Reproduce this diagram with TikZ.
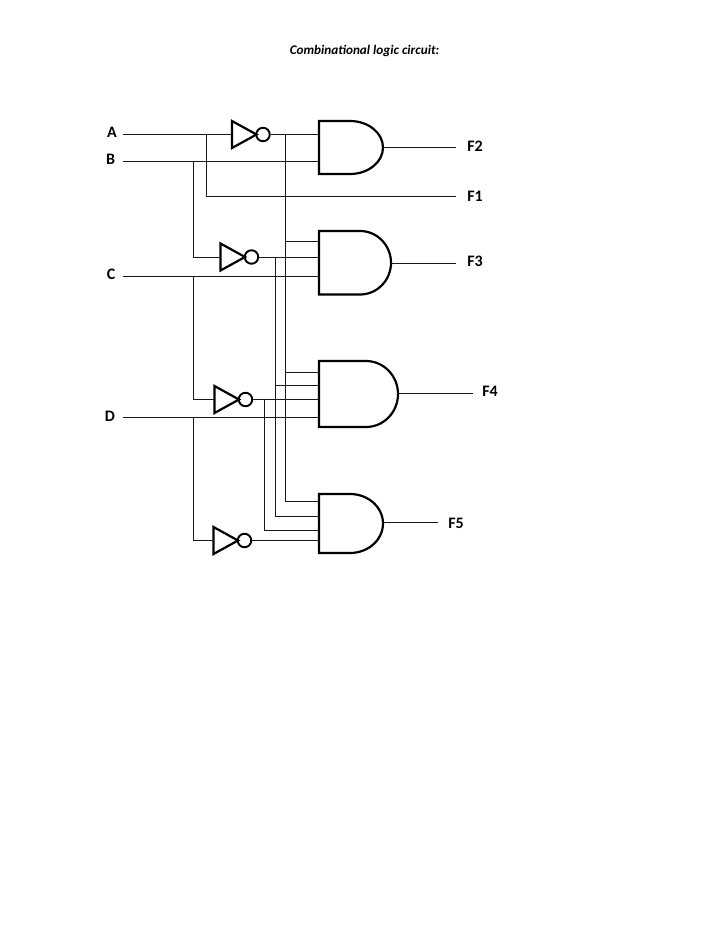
\documentclass[tikz,border=0pt]{standalone}
\usepackage{fontspec}
\setmainfont{Carlito}
\tikzset{
  wire/.style={line width=1pt, color=black!90},
  body/.style={line width=2.2pt, color=black},
  bubble/.style={circle, draw, line width=1.9pt, inner sep=0pt, minimum size=13.5pt},
  tag/.style={font=\bfseries\fontsize{16}{18}\selectfont, inner sep=0pt}
}
\begin{document}
\begin{tikzpicture}[x=1pt, y=-1pt]
  \useasboundingbox (0,0) rectangle (728,943);
  \def\Xin{123};
  \def\Xg{319};

  \node [font=\bfseries\itshape\fontsize{13.2}{15}\selectfont, inner sep=0pt] (title) at (364.5,50.5) {Combinational logic circuit:};

  % input ends and labels
  \coordinate (A) at (\Xin,134.5);
  \coordinate (B) at (\Xin,161.5);
  \coordinate (C) at (\Xin,276.5);
  \coordinate (D) at (\Xin,417.5);
  \node [tag] (labA) at (112,132) {A};
  \node [tag] (labB) at (110.5,159) {B};
  \node [tag] (labC) at (111,274) {C};
  \node [tag] (labD) at (110,416) {D};

  % vertical rails
  \coordinate (tapA) at (206,0);
  \coordinate (tapB) at (193,0);
  \coordinate (railA) at (285,0);
  \coordinate (railC) at (275,0);
  \coordinate (railD) at (264,0);

  % inverters
  \foreach \name/\x/\y in {notA/232/134.5, notB/220.5/257, notC/214.5/399.5, notD/213.5/540.5} {
    \draw [body, line join=miter] (\x,\y-13.5) -- (\x+24.5,\y) -- (\x,\y+13.5) -- cycle;
    \coordinate (\name i) at (\x,\y);
    \node [bubble] (\name) at (\x+31,\y) {};
  }

  % and gates
  \foreach \name/\top/\bot/\flat/\rx in {gF/121/174/350/33, gH/231/294.5/360/31, gJ/361/427/366/32, gK/494/553/350/33} {
    \draw [body] (\Xg,\bot) -- (\Xg,\top) -- (\flat,\top)
       arc (90:-90:\rx pt and {(\bot-\top)/2*1pt}) -- cycle;
    \coordinate (\name) at (\Xg,{(\top+\bot)/2});
  }
  \coordinate (gFo) at (383,147.5);
  \coordinate (gHo) at (391,263);
  \coordinate (gJo) at (398,393);
  \coordinate (gKo) at (383,522);

  % pins on the gates
  \coordinate (f1) at (\Xg,134.5);
  \coordinate (f2) at (\Xg,161.5);
  \coordinate (h1) at (\Xg,241);
  \coordinate (h2) at (\Xg,257);
  \coordinate (h3) at (\Xg,276.5);
  \coordinate (j1) at (\Xg,372);
  \coordinate (j2) at (\Xg,385);
  \coordinate (j3) at (\Xg,399.5);
  \coordinate (j4) at (\Xg,417.5);
  \coordinate (k1) at (\Xg,501);
  \coordinate (k2) at (\Xg,516);
  \coordinate (k3) at (\Xg,530);
  \coordinate (k4) at (\Xg,540.5);

  % outputs
  \coordinate (outF1) at (456,196);
  \coordinate (outF2) at (456,147.5);
  \coordinate (outF3) at (456,263);
  \coordinate (outF4) at (473,393);
  \coordinate (outF5) at (438,522);
  \node [tag] (labF1) at (475,196) {F1};
  \node [tag] (labF2) at (475,146) {F2};
  \node [tag] (labF3) at (475,261) {F3};
  \node [tag] (labF4) at (490,391) {F4};
  \node [tag] (labF5) at (456,523) {F5};

  \draw [wire] (A) -- (notAi);
  \draw [wire] (B) -- (f2);
  \draw [wire] (C) -- (h3);
  \draw [wire] (D) -- (j4);
  \draw [wire] (A -| tapA) |- (outF1);                 % A -> F1
  \draw [wire] (B -| tapB) |- (notBi);
  \draw [wire] (C -| tapB) |- (notCi);
  \draw [wire] (D -| tapB) |- (notDi);

  \draw [wire] (notA) -- (f1);
  \draw [wire] (notB) -- (h2);
  \draw [wire] (notC) -- (j3);
  \draw [wire] (notD) -- (k4);

  \draw [wire] (f1 -| railA) |- (k1);                  % not A
  \draw [wire] (h1 -| railA) -- (h1);
  \draw [wire] (j1 -| railA) -- (j1);
  \draw [wire] (h2 -| railC) |- (k2);                  % not B
  \draw [wire] (j2 -| railC) -- (j2);
  \draw [wire] (j3 -| railD) |- (k3);                  % not C

  \draw [wire] (gFo) -- (outF2);
  \draw [wire] (gHo) -- (outF3);
  \draw [wire] (gJo) -- (outF4);
  \draw [wire] (gKo) -- (outF5);
\end{tikzpicture}
\end{document}
